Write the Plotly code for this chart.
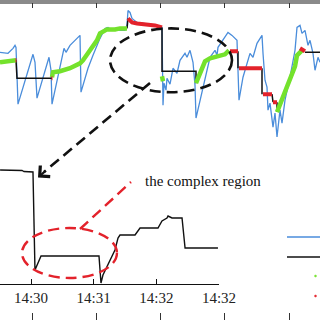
import plotly.graph_objects as go

# ---------------- data ----------------
# upper panel: sample index vs. signal value
blue_t = [0, 8, 13, 15, 16, 17, 18, 33, 35, 37, 49, 51, 52, 64, 66, 70, 80, 81, 88, 93,
          100, 105, 108, 112, 115, 120, 125, 127, 128, 130, 132, 137, 150, 162, 163, 164,
          166, 167, 170, 173, 177, 180, 185, 187, 190, 193, 195, 196, 200, 205, 210, 215,
          217, 218, 225, 228, 232, 237, 239, 243, 250, 253, 257, 262, 263, 265, 267, 268,
          270, 273, 275, 277, 280, 282, 285, 290, 295, 297, 300, 302, 305, 308, 310, 313,
          315, 318, 320]
blue_v = [88, 87, 92, 95, 93, 68, 36, 86, 78, 42, 83, 70, 36, 92, 88, 95, 105, 48, 72, 85,
          102, 112, 113, 110, 112, 110, 110, 115, 130, 128, 122, 118, 116, 113, 35, 57,
          50, 62, 56, 72, 67, 80, 87, 83, 90, 78, 55, 22, 40, 63, 83, 90,
          85, 93, 103, 108, 105, 100, 40, 63, 87, 83, 97, 105, 87, 60, 53, 30,
          37, 13, 27, 3, 30, 17, 40, 63, 90, 113, 115, 107, 110, 95, 100, 87,
          70, 83, 78]

green_t = [0, 8, 16, None,
           52, 53, 60, 70, 80, 83, 90, 97, 100, 107, 115, 120, 127, None,
           162, 163, None,
           196, 198, 202, 205, 210, 215, 220, 225, 229, None,
           277, 280, 283, 287, 290, 293, 295, 297, 300, 302]
green_v = [78, 79, 80, None,
           63, 68, 69, 72, 77, 80, 90, 100, 107, 111, 111, 112, 112, None,
           64, 59, None,
           57, 62, 70, 79, 82, 83, 84, 86, 90, None,
           28, 36, 43, 52, 60, 68, 74, 85, 89, 90]

red_t = [128, 130, 132, 137, 145, 155, 162, None,
         230, 238, None, 239, 262, None, 263, 272, None, 273, 277, None, 300, 305, None,
         15.5, 16.5, None, 51.5, 52.5]
red_v = [122, 120, 118, 117, 116, 115, 113, None,
         89, 89, None, 72, 72, None, 46, 46, None, 38, 38, None, 92, 89, None,
         80, 80, None, 62, 62]

black_t = [16, 17, 52, None, 127, 128, None, 162, 162, 196, 196, None,
           238, 238, None, 262, 262, None, 272, 273, None, 277, 277, None,
           295, 296, None, 305, 320]
black_v = [80, 62, 62, None, 112, 122, None, 113, 69, 69, 57, None,
           89, 72, None, 72, 46, None, 46, 38, None, 38, 28, None,
           74, 82, None, 88, 88]

main_ticks = [32, 96.25, 160.5, 224.75, 289]

# lower inset: seconds after 14:30 vs. value
inset_t = [-29.6, -8.6, -6.7, 1.9, 3.8, 9.6, 65.1, 67.0, 68.9, 73.7, 80.4, 83.3, 85.2,
           99.6, 104.4, 121.6, 125.4, 130.2, 131.2, 135.0, 144.6, 147.5, 179.0]
inset_v = [114, 113.5, 112.5, 112, 14, 28, 28, 1, 9, 19, 34, 46, 49,
           49, 56, 56, 63, 66, 68, 66, 66, 36, 36]
inset_tickvals = [0, 60, 120, 180]
inset_ticktext = ["14:30", "14:31", "14:32", "14:32"]

BLUE = "#4a8ddb"
GREEN = "#74e22c"
RED = "#e3222b"
BLACK = "#111111"
SERIF = "Liberation Serif, Times New Roman, serif"


def P(px, py):
    return px / 320.0, 1 - py / 320.0


fig = go.Figure()
fig.add_trace(go.Scatter(x=blue_t, y=blue_v, mode="lines",
                         line=dict(color=BLUE, width=1.3), xaxis="x", yaxis="y"))
fig.add_trace(go.Scatter(x=black_t, y=black_v, mode="lines",
                         line=dict(color=BLACK, width=1.5), xaxis="x", yaxis="y"))
fig.add_trace(go.Scatter(x=green_t, y=green_v, mode="lines",
                         line=dict(color=GREEN, width=4.5), xaxis="x", yaxis="y"))
fig.add_trace(go.Scatter(x=red_t, y=red_v, mode="lines",
                         line=dict(color=RED, width=4), xaxis="x", yaxis="y"))
fig.add_trace(go.Scatter(x=inset_t, y=inset_v, mode="lines",
                         line=dict(color=BLACK, width=1.4), xaxis="x2", yaxis="y2"))
# carrier trace for the lower frame's tick marks
fig.add_trace(go.Scatter(x=[main_ticks[0]], y=[-1000], mode="markers",
                         marker=dict(opacity=0), xaxis="x3", yaxis="y"))

shapes = []
# black dashed ellipse in upper panel
shapes.append(dict(type="circle", xref="x", yref="y", x0=110, x1=232, y0=48, y1=112,
                   line=dict(color=BLACK, width=2.6, dash="11px,6px")))
# red dashed ellipse in inset
shapes.append(dict(type="circle", xref="x2", yref="y2", x0=-8.6, x1=82.3, y0=6, y1=56,
                   line=dict(color=RED, width=2.4, dash="11px,6px")))
# red dashed pointer line
x0, y0 = P(80, 229)
x1, y1 = P(131, 182)
shapes.append(dict(type="line", xref="paper", yref="paper", x0=x0, y0=y0, x1=x1, y1=y1,
                   line=dict(color=RED, width=2.4, dash="11px,6px")))
# black dashed arrow shaft
x0, y0 = P(150, 83)
x1, y1 = P(44, 172)
shapes.append(dict(type="line", xref="paper", yref="paper", x0=x0, y0=y0, x1=x1, y1=y1,
                   line=dict(color=BLACK, width=2.6, dash="11px,6px")))
# legend keys
for (py, col) in [(237, BLUE), (257, BLACK)]:
    a, b = P(287, py)
    c, d = P(322, py)
    shapes.append(dict(type="line", xref="paper", yref="paper", x0=a, y0=b, x1=c, y1=d,
                       line=dict(color=col, width=1.5)))
for (py, col) in [(276, GREEN), (296, RED)]:
    a, b = P(314.5, py - 1)
    c, d = P(316.5, py + 1)
    shapes.append(dict(type="circle", xref="paper", yref="paper", x0=a, y0=b, x1=c, y1=d,
                       fillcolor=col, line=dict(color=col, width=0.5)))

ax_, ay_ = P(38, 177.5)
tx, ty = P(143, 181)
annotations = [
    dict(x=ax_, y=ay_, xref="paper", yref="paper", text="", showarrow=True,
         arrowhead=4, arrowsize=1.3, arrowwidth=2.2, arrowcolor=BLACK, ax=9, ay=-8),
    dict(x=tx, y=ty, xref="paper", yref="paper", text="the complex region",
         showarrow=False, xanchor="left", yanchor="middle",
         font=dict(family=SERIF, size=15, color=BLACK)),
]

fig.update_layout(
    width=320, height=320,
    margin=dict(l=0, r=0, t=0, b=0, autoexpand=False),
    paper_bgcolor="white", plot_bgcolor="rgba(0,0,0,0)",
    showlegend=False,
    shapes=shapes, annotations=annotations,
    xaxis=dict(domain=[0, 1], range=[0, 320], anchor="y", side="top",
               showline=True, linecolor="#8a8a8a", linewidth=3.5,
               ticks="inside", ticklen=5, tickwidth=1.2, tickcolor="#333",
               tickvals=main_ticks, showticklabels=False,
               showgrid=False, zeroline=False),
    yaxis=dict(domain=[1 - 140 / 320, 1 - 3.5 / 320], range=[0, 137], visible=False),
    xaxis3=dict(overlaying="x", anchor="free", position=0, side="bottom",
                range=[0, 320], ticks="inside", ticklen=7, tickwidth=1.2,
                tickcolor="#333", tickvals=main_ticks, showticklabels=False,
                showline=False, showgrid=False, zeroline=False),
    xaxis2=dict(domain=[0, 219 / 320], range=[-29.68, 180], anchor="y2",
                showline=True, linecolor=BLACK, linewidth=1.2,
                ticks="inside", ticklen=5, tickwidth=1, tickcolor=BLACK,
                tickvals=inset_tickvals, ticktext=inset_ticktext,
                tickfont=dict(family=SERIF, size=15, color="#222"),
                showgrid=False, zeroline=False),
    yaxis2=dict(domain=[1 - 284 / 320, 1 - 165 / 320], range=[0, 119], visible=False),
)

fig.write_html("out.html")
